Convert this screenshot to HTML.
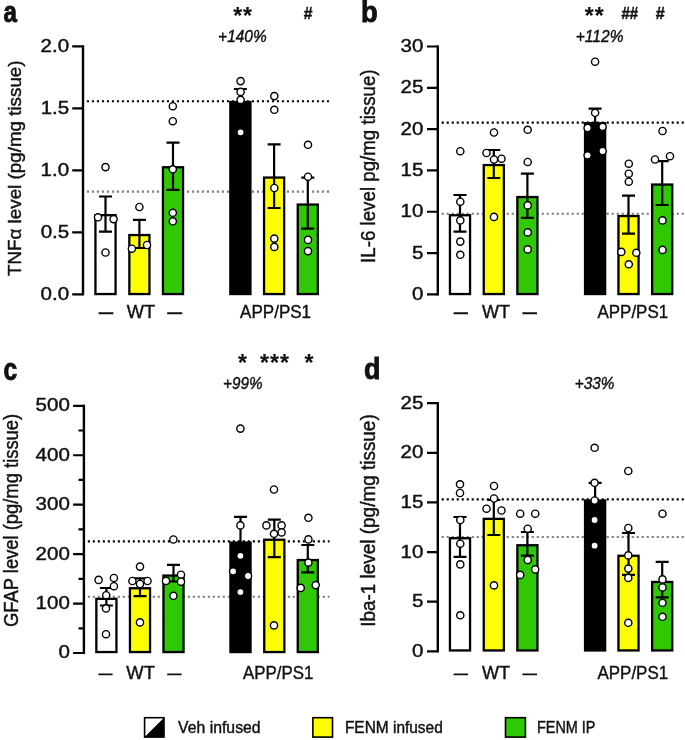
<!DOCTYPE html>
<html lang="en"><head><meta charset="utf-8"><title>Figure</title>
<style>html,body{margin:0;padding:0;background:#fff}svg{display:block;filter:blur(.45px)}text{font-family:'Liberation Sans', sans-serif;fill:#111;stroke:#111;stroke-width:.42px}</style>
</head><body>
<svg width="685" height="740" viewBox="0 0 685 740">
<rect width="685" height="740" fill="#fff"/>
<g>
<path d="M86.9 101.2H329.5" stroke="#000" stroke-width="2.1" stroke-dasharray="2.1 2.9" fill="none"/>
<path d="M86.9 191.6H329.5" stroke="#7c7c7c" stroke-width="2.1" stroke-dasharray="2.1 2.9" fill="none"/>
<path d="M83.00 45.30V295.40" stroke="#000" stroke-width="2.4" fill="none"/>
<path d="M72.20 294.30H83.00M72.20 232.30H83.00M72.20 170.30H83.00M72.20 108.30H83.00M72.20 46.30H83.00" stroke="#000" stroke-width="2.2" fill="none"/>
<text x="40.6" y="299.7" font-size="18" textLength="28.5" lengthAdjust="spacingAndGlyphs">0.0</text>
<text x="40.7" y="237.7" font-size="18" textLength="28.5" lengthAdjust="spacingAndGlyphs">0.5</text>
<text x="40.6" y="175.7" font-size="18" textLength="28.5" lengthAdjust="spacingAndGlyphs">1.0</text>
<text x="40.7" y="113.7" font-size="18" textLength="28.5" lengthAdjust="spacingAndGlyphs">1.5</text>
<text x="40.6" y="51.7" font-size="18" textLength="28.5" lengthAdjust="spacingAndGlyphs">2.0</text>
<rect x="95.45" y="215.15" width="20.10" height="78.90" fill="#fff" stroke="#000" stroke-width="2.3"/>
<path d="M105.50 196.50V231.70M99.00 196.50H112.00M99.00 231.70H112.00" stroke="#000" stroke-width="2.2" fill="none"/>
<rect x="129.35" y="235.05" width="20.10" height="59.00" fill="#ffff00" stroke="#000" stroke-width="2.3"/>
<path d="M139.40 219.80V248.00M132.90 219.80H145.90M132.90 248.00H145.90" stroke="#000" stroke-width="2.2" fill="none"/>
<rect x="162.95" y="167.25" width="20.10" height="126.80" fill="#2fc803" stroke="#000" stroke-width="2.3"/>
<path d="M173.00 142.70V189.90M166.50 142.70H179.50M166.50 189.90H179.50" stroke="#000" stroke-width="2.2" fill="none"/>
<rect x="230.35" y="102.05" width="20.10" height="192.00" fill="#000" stroke="#000" stroke-width="2.3"/>
<path d="M240.40 89.00V112.00M233.90 89.00H246.90M233.90 112.00H246.90" stroke="#000" stroke-width="2.2" fill="none"/>
<rect x="264.05" y="177.55" width="20.10" height="116.50" fill="#ffff00" stroke="#000" stroke-width="2.3"/>
<path d="M274.10 144.30V208.00M267.60 144.30H280.60M267.60 208.00H280.60" stroke="#000" stroke-width="2.2" fill="none"/>
<rect x="297.75" y="204.55" width="20.10" height="89.50" fill="#2fc803" stroke="#000" stroke-width="2.3"/>
<path d="M307.80 177.70V228.70M301.30 177.70H314.30M301.30 228.70H314.30" stroke="#000" stroke-width="2.2" fill="none"/>
<g fill="#fff" stroke="#000" stroke-width="1.4">
<circle cx="105.5" cy="167.1" r="3.6"/>
<circle cx="98.0" cy="217.3" r="3.6"/>
<circle cx="113.6" cy="219.1" r="3.6"/>
<circle cx="105.5" cy="252.5" r="3.6"/>
<circle cx="139.4" cy="207.0" r="3.6"/>
<circle cx="131.9" cy="248.7" r="3.6"/>
<circle cx="147.0" cy="245.0" r="3.6"/>
<circle cx="172.8" cy="106.2" r="3.6"/>
<circle cx="172.8" cy="121.2" r="3.6"/>
<circle cx="172.8" cy="169.3" r="3.6"/>
<circle cx="172.8" cy="212.8" r="3.6"/>
<circle cx="172.8" cy="221.3" r="3.6"/>
<circle cx="240.6" cy="81.1" r="3.6"/>
<circle cx="240.6" cy="91.9" r="3.6"/>
<circle cx="240.6" cy="99.9" r="3.6"/>
<circle cx="240.6" cy="132.3" r="3.6"/>
<circle cx="274.3" cy="96.1" r="3.6"/>
<circle cx="274.3" cy="109.8" r="3.6"/>
<circle cx="274.3" cy="188.0" r="3.6"/>
<circle cx="274.3" cy="238.6" r="3.6"/>
<circle cx="274.3" cy="246.9" r="3.6"/>
<circle cx="308.0" cy="144.8" r="3.6"/>
<circle cx="308.0" cy="176.7" r="3.6"/>
<circle cx="308.0" cy="239.9" r="3.6"/>
<circle cx="308.0" cy="251.1" r="3.6"/>
</g>
</g>
<g>
<path d="M441.7 122.6H684.0" stroke="#000" stroke-width="2.1" stroke-dasharray="2.1 2.9" fill="none"/>
<path d="M441.7 213.7H684.0" stroke="#7c7c7c" stroke-width="2.1" stroke-dasharray="2.1 2.9" fill="none"/>
<path d="M437.80 45.40V295.50" stroke="#000" stroke-width="2.4" fill="none"/>
<path d="M427.00 294.40H437.80M427.00 253.08H437.80M427.00 211.76H437.80M427.00 170.44H437.80M427.00 129.12H437.80M427.00 87.80H437.80M427.00 46.48H437.80" stroke="#000" stroke-width="2.2" fill="none"/>
<text x="411.9" y="299.8" font-size="18" textLength="11.4" lengthAdjust="spacingAndGlyphs">0</text>
<text x="412.0" y="258.5" font-size="18" textLength="11.4" lengthAdjust="spacingAndGlyphs">5</text>
<text x="400.5" y="217.2" font-size="18" textLength="22.8" lengthAdjust="spacingAndGlyphs">10</text>
<text x="400.6" y="175.8" font-size="18" textLength="22.8" lengthAdjust="spacingAndGlyphs">15</text>
<text x="400.5" y="134.5" font-size="18" textLength="22.8" lengthAdjust="spacingAndGlyphs">20</text>
<text x="400.6" y="93.2" font-size="18" textLength="22.8" lengthAdjust="spacingAndGlyphs">25</text>
<text x="400.5" y="51.9" font-size="18" textLength="22.8" lengthAdjust="spacingAndGlyphs">30</text>
<rect x="449.95" y="215.25" width="20.10" height="78.80" fill="#fff" stroke="#000" stroke-width="2.3"/>
<path d="M460.00 195.00V231.60M453.50 195.00H466.50M453.50 231.60H466.50" stroke="#000" stroke-width="2.2" fill="none"/>
<rect x="483.75" y="165.05" width="20.10" height="129.00" fill="#ffff00" stroke="#000" stroke-width="2.3"/>
<path d="M493.80 150.00V178.00M487.30 150.00H500.30M487.30 178.00H500.30" stroke="#000" stroke-width="2.2" fill="none"/>
<rect x="517.35" y="197.05" width="20.10" height="97.00" fill="#2fc803" stroke="#000" stroke-width="2.3"/>
<path d="M527.40 173.70V217.90M520.90 173.70H533.90M520.90 217.90H533.90" stroke="#000" stroke-width="2.2" fill="none"/>
<rect x="585.05" y="123.25" width="20.10" height="170.80" fill="#000" stroke="#000" stroke-width="2.3"/>
<path d="M595.10 108.60V135.00M588.60 108.60H601.60M588.60 135.00H601.60" stroke="#000" stroke-width="2.2" fill="none"/>
<rect x="618.45" y="216.05" width="20.10" height="78.00" fill="#ffff00" stroke="#000" stroke-width="2.3"/>
<path d="M628.50 195.70V233.60M622.00 195.70H635.00M622.00 233.60H635.00" stroke="#000" stroke-width="2.2" fill="none"/>
<rect x="652.15" y="184.55" width="20.10" height="109.50" fill="#2fc803" stroke="#000" stroke-width="2.3"/>
<path d="M662.20 161.20V205.00M655.70 161.20H668.70M655.70 205.00H668.70" stroke="#000" stroke-width="2.2" fill="none"/>
<g fill="#fff" stroke="#000" stroke-width="1.4">
<circle cx="460.3" cy="151.2" r="3.6"/>
<circle cx="460.3" cy="201.7" r="3.6"/>
<circle cx="460.3" cy="220.4" r="3.6"/>
<circle cx="460.3" cy="241.6" r="3.6"/>
<circle cx="460.3" cy="254.8" r="3.6"/>
<circle cx="494.0" cy="132.5" r="3.6"/>
<circle cx="486.5" cy="153.0" r="3.6"/>
<circle cx="494.0" cy="159.5" r="3.6"/>
<circle cx="501.5" cy="158.7" r="3.6"/>
<circle cx="494.0" cy="216.9" r="3.6"/>
<circle cx="527.7" cy="129.8" r="3.6"/>
<circle cx="527.7" cy="162.0" r="3.6"/>
<circle cx="527.7" cy="205.4" r="3.6"/>
<circle cx="527.7" cy="232.4" r="3.6"/>
<circle cx="527.7" cy="249.4" r="3.6"/>
<circle cx="595.1" cy="61.7" r="3.6"/>
<circle cx="595.1" cy="112.8" r="3.6"/>
<circle cx="587.6" cy="128.0" r="3.6"/>
<circle cx="602.6" cy="126.8" r="3.6"/>
<circle cx="587.6" cy="155.3" r="3.6"/>
<circle cx="602.6" cy="151.0" r="3.6"/>
<circle cx="628.8" cy="163.7" r="3.6"/>
<circle cx="628.8" cy="173.7" r="3.6"/>
<circle cx="628.8" cy="181.7" r="3.6"/>
<circle cx="621.3" cy="251.9" r="3.6"/>
<circle cx="636.3" cy="252.8" r="3.6"/>
<circle cx="628.8" cy="264.3" r="3.6"/>
<circle cx="662.5" cy="131.0" r="3.6"/>
<circle cx="655.0" cy="159.5" r="3.6"/>
<circle cx="670.0" cy="156.2" r="3.6"/>
<circle cx="662.5" cy="220.4" r="3.6"/>
<circle cx="662.5" cy="249.9" r="3.6"/>
</g>
</g>
<g>
<path d="M87.8 541.4H329.5" stroke="#000" stroke-width="2.1" stroke-dasharray="2.1 2.9" fill="none"/>
<path d="M87.8 596.7H329.5" stroke="#7c7c7c" stroke-width="2.1" stroke-dasharray="2.1 2.9" fill="none"/>
<path d="M83.90 404.70V654.10" stroke="#000" stroke-width="2.4" fill="none"/>
<path d="M73.10 653.00H83.90M73.10 603.56H83.90M73.10 554.12H83.90M73.10 504.68H83.90M73.10 455.24H83.90M73.10 405.80H83.90M78.50 628.28H83.90M78.50 578.84H83.90M78.50 529.40H83.90M78.50 479.96H83.90M78.50 430.52H83.90" stroke="#000" stroke-width="2.2" fill="none"/>
<text x="58.4" y="658.4" font-size="18" textLength="11.4" lengthAdjust="spacingAndGlyphs">0</text>
<text x="35.6" y="609.0" font-size="18" textLength="34.2" lengthAdjust="spacingAndGlyphs">100</text>
<text x="35.6" y="559.5" font-size="18" textLength="34.2" lengthAdjust="spacingAndGlyphs">200</text>
<text x="35.6" y="510.1" font-size="18" textLength="34.2" lengthAdjust="spacingAndGlyphs">300</text>
<text x="35.6" y="460.6" font-size="18" textLength="34.2" lengthAdjust="spacingAndGlyphs">400</text>
<text x="35.6" y="411.2" font-size="18" textLength="34.2" lengthAdjust="spacingAndGlyphs">500</text>
<rect x="96.35" y="598.85" width="20.10" height="53.20" fill="#fff" stroke="#000" stroke-width="2.3"/>
<path d="M106.40 588.00V605.50M99.90 588.00H112.90M99.90 605.50H112.90" stroke="#000" stroke-width="2.2" fill="none"/>
<rect x="129.95" y="588.25" width="20.10" height="63.80" fill="#ffff00" stroke="#000" stroke-width="2.3"/>
<path d="M140.00 578.40V596.20M133.50 578.40H146.50M133.50 596.20H146.50" stroke="#000" stroke-width="2.2" fill="none"/>
<rect x="163.45" y="575.55" width="20.10" height="76.50" fill="#2fc803" stroke="#000" stroke-width="2.3"/>
<path d="M173.50 564.80V581.50M167.00 564.80H180.00M167.00 581.50H180.00" stroke="#000" stroke-width="2.2" fill="none"/>
<rect x="230.45" y="542.55" width="20.10" height="109.50" fill="#000" stroke="#000" stroke-width="2.3"/>
<path d="M240.50 516.90V560.00M234.00 516.90H247.00M234.00 560.00H247.00" stroke="#000" stroke-width="2.2" fill="none"/>
<rect x="264.25" y="539.75" width="20.10" height="112.30" fill="#ffff00" stroke="#000" stroke-width="2.3"/>
<path d="M274.30 519.70V557.20M267.80 519.70H280.80M267.80 557.20H280.80" stroke="#000" stroke-width="2.2" fill="none"/>
<rect x="297.75" y="560.05" width="20.10" height="92.00" fill="#2fc803" stroke="#000" stroke-width="2.3"/>
<path d="M307.80 545.00V572.40M301.30 545.00H314.30M301.30 572.40H314.30" stroke="#000" stroke-width="2.2" fill="none"/>
<g fill="#fff" stroke="#000" stroke-width="1.4">
<circle cx="98.6" cy="579.9" r="3.6"/>
<circle cx="113.9" cy="578.0" r="3.6"/>
<circle cx="113.9" cy="586.2" r="3.6"/>
<circle cx="106.2" cy="595.2" r="3.6"/>
<circle cx="106.0" cy="608.4" r="3.6"/>
<circle cx="106.0" cy="634.2" r="3.6"/>
<circle cx="140.0" cy="566.6" r="3.6"/>
<circle cx="132.4" cy="581.0" r="3.6"/>
<circle cx="140.0" cy="584.0" r="3.6"/>
<circle cx="147.5" cy="581.0" r="3.6"/>
<circle cx="140.0" cy="622.4" r="3.6"/>
<circle cx="173.4" cy="539.5" r="3.6"/>
<circle cx="166.0" cy="580.9" r="3.6"/>
<circle cx="181.0" cy="574.7" r="3.6"/>
<circle cx="181.0" cy="581.7" r="3.6"/>
<circle cx="173.4" cy="595.8" r="3.6"/>
<circle cx="240.4" cy="428.6" r="3.6"/>
<circle cx="240.4" cy="525.4" r="3.6"/>
<circle cx="240.4" cy="555.8" r="3.6"/>
<circle cx="233.1" cy="571.3" r="3.6"/>
<circle cx="248.0" cy="576.0" r="3.6"/>
<circle cx="240.4" cy="592.1" r="3.6"/>
<circle cx="274.0" cy="489.5" r="3.6"/>
<circle cx="266.4" cy="525.4" r="3.6"/>
<circle cx="281.6" cy="525.4" r="3.6"/>
<circle cx="274.0" cy="533.8" r="3.6"/>
<circle cx="281.6" cy="532.4" r="3.6"/>
<circle cx="274.0" cy="625.4" r="3.6"/>
<circle cx="308.4" cy="517.8" r="3.6"/>
<circle cx="308.4" cy="539.4" r="3.6"/>
<circle cx="308.4" cy="562.6" r="3.6"/>
<circle cx="300.7" cy="587.9" r="3.6"/>
<circle cx="315.7" cy="585.1" r="3.6"/>
</g>
</g>
<g>
<path d="M441.7 499.4H684.0" stroke="#000" stroke-width="2.1" stroke-dasharray="2.1 2.9" fill="none"/>
<path d="M441.7 537.0H684.0" stroke="#7c7c7c" stroke-width="2.1" stroke-dasharray="2.1 2.9" fill="none"/>
<path d="M437.80 402.10V652.40" stroke="#000" stroke-width="2.4" fill="none"/>
<path d="M427.00 651.30H437.80M427.00 601.68H437.80M427.00 552.06H437.80M427.00 502.44H437.80M427.00 452.82H437.80M427.00 403.20H437.80" stroke="#000" stroke-width="2.2" fill="none"/>
<text x="411.9" y="656.7" font-size="18" textLength="11.4" lengthAdjust="spacingAndGlyphs">0</text>
<text x="412.0" y="607.1" font-size="18" textLength="11.4" lengthAdjust="spacingAndGlyphs">5</text>
<text x="400.5" y="557.5" font-size="18" textLength="22.8" lengthAdjust="spacingAndGlyphs">10</text>
<text x="400.6" y="507.8" font-size="18" textLength="22.8" lengthAdjust="spacingAndGlyphs">15</text>
<text x="400.5" y="458.2" font-size="18" textLength="22.8" lengthAdjust="spacingAndGlyphs">20</text>
<text x="400.6" y="408.6" font-size="18" textLength="22.8" lengthAdjust="spacingAndGlyphs">25</text>
<rect x="449.95" y="538.25" width="20.10" height="112.20" fill="#fff" stroke="#000" stroke-width="2.3"/>
<path d="M460.00 517.00V556.90M453.50 517.00H466.50M453.50 556.90H466.50" stroke="#000" stroke-width="2.2" fill="none"/>
<rect x="483.75" y="518.85" width="20.10" height="131.60" fill="#ffff00" stroke="#000" stroke-width="2.3"/>
<path d="M493.80 500.00V535.00M487.30 500.00H500.30M487.30 535.00H500.30" stroke="#000" stroke-width="2.2" fill="none"/>
<rect x="517.35" y="545.25" width="20.10" height="105.20" fill="#2fc803" stroke="#000" stroke-width="2.3"/>
<path d="M527.40 532.00V555.60M520.90 532.00H533.90M520.90 555.60H533.90" stroke="#000" stroke-width="2.2" fill="none"/>
<rect x="585.05" y="500.45" width="20.10" height="150.00" fill="#000" stroke="#000" stroke-width="2.3"/>
<path d="M595.10 482.80V515.00M588.60 482.80H601.60M588.60 515.00H601.60" stroke="#000" stroke-width="2.2" fill="none"/>
<rect x="618.45" y="555.75" width="20.10" height="94.70" fill="#ffff00" stroke="#000" stroke-width="2.3"/>
<path d="M628.50 533.00V574.90M622.00 533.00H635.00M622.00 574.90H635.00" stroke="#000" stroke-width="2.2" fill="none"/>
<rect x="652.15" y="581.95" width="20.10" height="68.50" fill="#2fc803" stroke="#000" stroke-width="2.3"/>
<path d="M662.20 561.90V597.40M655.70 561.90H668.70M655.70 597.40H668.70" stroke="#000" stroke-width="2.2" fill="none"/>
<g fill="#fff" stroke="#000" stroke-width="1.4">
<circle cx="460.0" cy="484.3" r="3.6"/>
<circle cx="460.0" cy="493.0" r="3.6"/>
<circle cx="460.3" cy="520.0" r="3.6"/>
<circle cx="460.3" cy="543.7" r="3.6"/>
<circle cx="460.3" cy="564.4" r="3.6"/>
<circle cx="460.3" cy="615.3" r="3.6"/>
<circle cx="494.0" cy="486.0" r="3.6"/>
<circle cx="494.0" cy="498.5" r="3.6"/>
<circle cx="486.5" cy="508.7" r="3.6"/>
<circle cx="501.5" cy="510.5" r="3.6"/>
<circle cx="494.0" cy="585.4" r="3.6"/>
<circle cx="520.2" cy="513.7" r="3.6"/>
<circle cx="535.2" cy="513.7" r="3.6"/>
<circle cx="527.7" cy="528.7" r="3.6"/>
<circle cx="527.7" cy="560.0" r="3.6"/>
<circle cx="535.2" cy="569.4" r="3.6"/>
<circle cx="520.2" cy="574.9" r="3.6"/>
<circle cx="594.6" cy="447.8" r="3.6"/>
<circle cx="594.6" cy="482.8" r="3.6"/>
<circle cx="594.6" cy="500.5" r="3.6"/>
<circle cx="594.6" cy="520.0" r="3.6"/>
<circle cx="594.6" cy="545.7" r="3.6"/>
<circle cx="628.3" cy="471.0" r="3.6"/>
<circle cx="628.3" cy="528.0" r="3.6"/>
<circle cx="628.3" cy="555.4" r="3.6"/>
<circle cx="628.3" cy="568.6" r="3.6"/>
<circle cx="628.3" cy="577.9" r="3.6"/>
<circle cx="628.3" cy="622.8" r="3.6"/>
<circle cx="662.5" cy="513.7" r="3.6"/>
<circle cx="662.5" cy="579.4" r="3.6"/>
<circle cx="662.5" cy="587.4" r="3.6"/>
<circle cx="662.5" cy="602.8" r="3.6"/>
<circle cx="662.5" cy="616.8" r="3.6"/>
</g>
</g>
<text x="3.4" y="22.3" font-size="29.2" font-weight="bold" textLength="13.4" lengthAdjust="spacingAndGlyphs" style="stroke-width:0.9px">a</text>
<text x="360.9" y="21.9" font-size="29.6" font-weight="bold" textLength="16.7" lengthAdjust="spacingAndGlyphs" style="stroke-width:0.9px">b</text>
<text x="3.6" y="379.8" font-size="31" font-weight="bold" textLength="13.7" lengthAdjust="spacingAndGlyphs" style="stroke-width:0.9px">c</text>
<text x="363.9" y="378.8" font-size="28.7" font-weight="bold" textLength="16.4" lengthAdjust="spacingAndGlyphs" style="stroke-width:0.9px">d</text>
<text x="20.8" y="276.0" font-size="19.0" textLength="215.6" lengthAdjust="spacingAndGlyphs" transform="rotate(-90 20.8 276.0)">TNFα level (pg/mg tissue)</text>
<text x="374.7" y="262.9" font-size="20.3" textLength="193.5" lengthAdjust="spacingAndGlyphs" transform="rotate(-90 374.7 262.9)">IL-6 level pg/mg tissue)</text>
<text x="17.9" y="627.0" font-size="19.3" textLength="213.2" lengthAdjust="spacingAndGlyphs" transform="rotate(-90 17.9 627.0)">GFAP level (pg/mg tissue)</text>
<text x="375.5" y="626.8" font-size="20.0" textLength="212.5" lengthAdjust="spacingAndGlyphs" transform="rotate(-90 375.5 626.8)">Iba-1 level (pg/mg tissue)</text>
<text x="126.7" y="317.5" font-size="18.5" textLength="28.4" lengthAdjust="spacingAndGlyphs">WT</text>
<text x="240.1" y="317.5" font-size="18.5" textLength="71.0" lengthAdjust="spacingAndGlyphs">APP/PS1</text>
<path d="M98.6 313.3H113.4M167.2 313.3H182.2" stroke="#111" stroke-width="1.9" fill="none"/>
<text x="481.9" y="317.5" font-size="18.5" textLength="28.1" lengthAdjust="spacingAndGlyphs">WT</text>
<text x="597.5" y="317.5" font-size="18.5" textLength="70.6" lengthAdjust="spacingAndGlyphs">APP/PS1</text>
<path d="M453.6 313.3H468.0M522.4 313.3H537.0" stroke="#111" stroke-width="1.9" fill="none"/>
<text x="126.3" y="678.7" font-size="18.5" textLength="28.6" lengthAdjust="spacingAndGlyphs">WT</text>
<text x="243.1" y="678.7" font-size="18.5" textLength="70.3" lengthAdjust="spacingAndGlyphs">APP/PS1</text>
<path d="M98.4 674.4H112.6M167.2 674.4H181.6" stroke="#111" stroke-width="1.9" fill="none"/>
<text x="481.9" y="678.7" font-size="18.5" textLength="28.1" lengthAdjust="spacingAndGlyphs">WT</text>
<text x="597.5" y="678.7" font-size="18.5" textLength="70.6" lengthAdjust="spacingAndGlyphs">APP/PS1</text>
<path d="M453.6 674.4H468.0M522.4 674.4H537.0" stroke="#111" stroke-width="1.9" fill="none"/>
<text x="233.3 242.9" y="23.5" font-size="23" font-weight="bold" style="stroke-width:.15px">**</text>
<text x="303.7" y="19.4" font-size="16.5" font-weight="bold" textLength="8.7" lengthAdjust="spacingAndGlyphs">#</text>
<text x="218.1" y="41.7" font-size="16.8" font-style="italic" textLength="48.6" lengthAdjust="spacingAndGlyphs">+140%</text>
<text x="584.8 594.7" y="23.5" font-size="23" font-weight="bold" style="stroke-width:.15px">**</text>
<text x="621.4" y="19.4" font-size="16.5" font-weight="bold" textLength="16.7" lengthAdjust="spacingAndGlyphs">##</text>
<text x="655.8" y="19.4" font-size="16.5" font-weight="bold" textLength="9.0" lengthAdjust="spacingAndGlyphs">#</text>
<text x="575.7" y="41.7" font-size="16.8" font-style="italic" textLength="47.8" lengthAdjust="spacingAndGlyphs">+112%</text>
<text x="238.1" y="370.5" font-size="23" font-weight="bold" style="stroke-width:.15px">*</text>
<text x="260.1 270.0 280.0" y="370.5" font-size="23" font-weight="bold" style="stroke-width:.15px">***</text>
<text x="304.6" y="370.5" font-size="23" font-weight="bold" style="stroke-width:.15px">*</text>
<text x="223.0" y="388.9" font-size="16.8" font-style="italic" textLength="39.5" lengthAdjust="spacingAndGlyphs">+99%</text>
<text x="574.8" y="389.2" font-size="16.8" font-style="italic" textLength="39.6" lengthAdjust="spacingAndGlyphs">+33%</text>
<rect x="144.6" y="717.7" width="19.4" height="19.4" fill="#fff" stroke="#000" stroke-width="1.6"/>
<path d="M164.0 717.7V737.1H144.6Z" fill="#000"/>
<rect x="312.9" y="717.7" width="19.6" height="19.4" fill="#ffff00" stroke="#000" stroke-width="1.6"/>
<rect x="505.5" y="717.7" width="19.9" height="19.4" fill="#2fc803" stroke="#000" stroke-width="1.6"/>
<text x="178.1" y="733.4" font-size="15.9" textLength="82.5" lengthAdjust="spacingAndGlyphs">Veh infused</text>
<text x="344.9" y="733.3" font-size="15.9" textLength="97.9" lengthAdjust="spacingAndGlyphs">FENM infused</text>
<text x="537.0" y="733.3" font-size="15.9" textLength="58.5" lengthAdjust="spacingAndGlyphs">FENM IP</text>
</svg>
</body></html>
